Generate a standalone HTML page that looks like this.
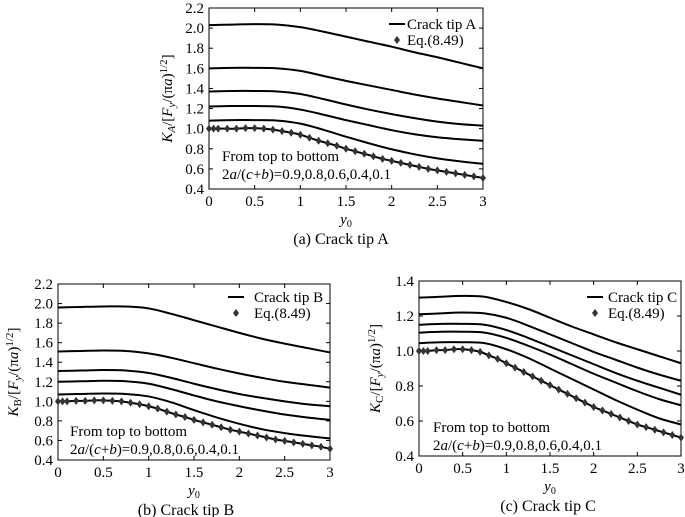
<!DOCTYPE html>
<html><head><meta charset="utf-8"><style>
html,body{margin:0;padding:0;background:#fff;}
svg{display:block;font-family:"Liberation Serif",serif;}
</style></head><body>
<svg id="fig" width="685" height="517" viewBox="0 0 685 517"></svg>
<script>
const xs=[0,0.25,0.5,0.75,1,1.25,1.5,1.75,2,2.25,2.5,2.75,3];
const mx=[0,0.05,0.1,0.2,0.3,0.4,0.5,0.6,0.7,0.8,0.9,1.0,1.1,1.2,1.3,1.4,1.5,1.6,1.7,1.8,1.9,2.0,2.1,2.2,2.3,2.4,2.5,2.6,2.7,2.8,2.9,3.0];
const xTicks=[0,0.5,1,1.5,2,2.5,3];
const xTickLabels=["0","0.5","1","1.5","2","2.5","3"];
const yTicksAB=[0.4,0.6,0.8,1.0,1.2,1.4,1.6,1.8,2.0,2.2];
const yTickLabelsAB=["0.4","0.6","0.8","1.0","1.2","1.4","1.6","1.8","2.0","2.2"];
const yTicksC=[0.4,0.6,0.8,1.0,1.2,1.4];
const yTickLabelsC=["0.4","0.6","0.8","1.0","1.2","1.4"];
const seriesA=[
[2.03,2.035,2.04,2.035,2.01,1.965,1.915,1.865,1.815,1.76,1.71,1.655,1.60],
[1.60,1.605,1.605,1.60,1.575,1.525,1.475,1.43,1.385,1.34,1.30,1.265,1.23],
[1.37,1.375,1.375,1.37,1.345,1.295,1.24,1.19,1.145,1.105,1.07,1.045,1.03],
[1.22,1.225,1.225,1.22,1.19,1.14,1.085,1.035,0.985,0.945,0.915,0.895,0.88],
[1.08,1.085,1.085,1.08,1.05,0.99,0.92,0.855,0.795,0.745,0.705,0.675,0.65]];
const markersA=[1.0,1.0,1.0,1.0,1.0,1.005,1.005,1.0,0.99,0.975,0.96,0.94,0.91,0.88,0.855,0.83,0.80,0.775,0.75,0.725,0.70,0.68,0.66,0.64,0.62,0.60,0.585,0.57,0.555,0.54,0.525,0.51];
const seriesB=[
[1.96,1.965,1.97,1.97,1.95,1.895,1.83,1.765,1.70,1.64,1.59,1.545,1.50],
[1.51,1.515,1.52,1.515,1.49,1.445,1.39,1.335,1.285,1.24,1.20,1.17,1.14],
[1.31,1.315,1.32,1.315,1.29,1.24,1.18,1.125,1.075,1.035,1.0,0.97,0.95],
[1.20,1.205,1.21,1.205,1.18,1.125,1.06,1.0,0.95,0.905,0.865,0.835,0.81],
[1.07,1.075,1.08,1.075,1.05,0.99,0.91,0.835,0.77,0.715,0.675,0.645,0.62]];
const markersB=[1.0,1.0,1.0,1.005,1.005,1.01,1.01,1.005,1.0,0.985,0.97,0.95,0.925,0.895,0.865,0.84,0.81,0.785,0.76,0.735,0.71,0.69,0.67,0.65,0.63,0.61,0.595,0.58,0.565,0.55,0.535,0.515];
const seriesC=[
[1.305,1.31,1.315,1.31,1.28,1.24,1.19,1.14,1.095,1.05,1.01,0.97,0.93],
[1.21,1.215,1.22,1.215,1.19,1.145,1.095,1.045,0.995,0.95,0.905,0.865,0.83],
[1.15,1.155,1.155,1.15,1.12,1.075,1.025,0.975,0.925,0.875,0.83,0.79,0.75],
[1.105,1.11,1.11,1.105,1.075,1.03,0.98,0.925,0.87,0.82,0.77,0.725,0.69],
[1.045,1.05,1.05,1.045,1.01,0.96,0.90,0.84,0.78,0.72,0.665,0.615,0.58]];
const markersC=[1.0,1.0,1.0,1.005,1.005,1.01,1.01,1.005,0.995,0.975,0.955,0.93,0.905,0.88,0.855,0.83,0.805,0.78,0.755,0.73,0.705,0.68,0.66,0.64,0.62,0.60,0.58,0.565,0.55,0.535,0.52,0.505];

const NS="http://www.w3.org/2000/svg";
const svg=document.getElementById('fig');
function mk(tag,attrs,parent,text){const e=document.createElementNS(NS,tag);for(const k in attrs)e.setAttribute(k,attrs[k]);if(text!==undefined)e.textContent=text;(parent||svg).appendChild(e);return e;}
function smooth(pts){let d='M'+pts[0][0].toFixed(2)+','+pts[0][1].toFixed(2);for(let i=0;i<pts.length-1;i++){const p0=pts[Math.max(0,i-1)],p1=pts[i],p2=pts[i+1],p3=pts[Math.min(pts.length-1,i+2)];const c1=[p1[0]+(p2[0]-p0[0])/6,p1[1]+(p2[1]-p0[1])/6],c2=[p2[0]-(p3[0]-p1[0])/6,p2[1]-(p3[1]-p1[1])/6];d+='C'+c1[0].toFixed(2)+','+c1[1].toFixed(2)+' '+c2[0].toFixed(2)+','+c2[1].toFixed(2)+' '+p2[0].toFixed(2)+','+p2[1].toFixed(2);}return d;}

function panel(cfg){
 const g=mk('g',{});
 
 
 const X=v=>cfg.x0+(v-0)/3*(cfg.x1-cfg.x0);
 const Y=v=>cfg.y1-(v-cfg.ymin)/(cfg.ymax-cfg.ymin)*(cfg.y1-cfg.y0);
 const frame=mk('rect',{x:cfg.x0,y:cfg.y0,width:cfg.x1-cfg.x0,height:cfg.y1-cfg.y0,fill:'none',stroke:'#000','stroke-width':1},g);
 
 
 xTicks.forEach((t,i)=>{const x=X(t);
  mk('line',{x1:x,y1:cfg.y1,x2:x,y2:cfg.y1-4,stroke:'#000'},g);
  mk('line',{x1:x,y1:cfg.y0,x2:x,y2:cfg.y0+4,stroke:'#000'},g);
  const tl=mk('text',{x:x,y:cfg.y1+17,'text-anchor':'middle','font-size':15},g,xTickLabels[i]);
  
  
 });
 cfg.yt.forEach((t,i)=>{const y=Y(t);
  mk('line',{x1:cfg.x0,y1:y,x2:cfg.x0+4,y2:y,stroke:'#000'},g);
  mk('line',{x1:cfg.x1,y1:y,x2:cfg.x1-4,y2:y,stroke:'#000'},g);
  const tl=mk('text',{x:cfg.x0-5,y:y+5,'text-anchor':'end','font-size':15},g,cfg.yl[i]);
  
  
 });
 cfg.series.forEach((s,k)=>{const p=mk('path',{d:smooth(xs.map((x,i)=>[X(x),Y(s[i])])),fill:'none',stroke:'#000','stroke-width':2},g);
  
  
 });
 const ml=mk('path',{d:smooth(mx.map((x,i)=>[X(x),Y(cfg.markers[i])])),fill:'none',stroke:'#000','stroke-width':2},g);
 
 
 mx.forEach((x,i)=>{const cx=X(x),cy=Y(cfg.markers[i]);
  const m=mk('path',{d:`M${cx},${cy-4}L${cx+3},${cy}L${cx},${cy+4}L${cx-3},${cy}Z`,fill:'#333'},g);
  
  
 });
 const lg=mk('g',{},g);
 
 
 mk('line',{x1:cfg.lx,y1:cfg.ly,x2:cfg.lx+16,y2:cfg.ly,stroke:'#000','stroke-width':2},lg);
 mk('text',{x:cfg.ltx,y:cfg.ly+5,'font-size':15},lg,'Crack tip '+cfg.id.toUpperCase());
 const mcx=cfg.lx+8,mcy=cfg.ly+16;
 mk('path',{d:`M${mcx},${mcy-4}L${mcx+3},${mcy}L${mcx},${mcy+4}L${mcx-3},${mcy}Z`,fill:'#333'},lg);
 mk('text',{x:cfg.ltx,y:mcy+5,'font-size':15},lg,'Eq.(8.49)');
 const an=mk('text',{x:cfg.ax,y:cfg.ay,'font-size':15},g,'From top to bottom');
 
 
 const an2=mk('text',{x:cfg.ax,y:cfg.ay+18,'font-size':15},g);
 
 
 an2.innerHTML='2<tspan font-style="italic">a</tspan>/(<tspan font-style="italic">c</tspan>+<tspan font-style="italic">b</tspan>)=0.9,0.8,0.6,0.4,0.1';
 const xt=mk('text',{x:(cfg.x0+cfg.x1)/2,y:cfg.y1+35,'text-anchor':'middle','font-size':15},g);
 
 
 xt.innerHTML='<tspan font-style="italic">y</tspan><tspan font-size="10" dy="3">0</tspan>';
 const cy=(cfg.y0+cfg.y1)/2;
 const yt=mk('text',{x:cfg.yx,y:cy,'text-anchor':'middle','font-size':15,transform:`rotate(-90 ${cfg.yx} ${cy})`},g);
 
 
 const L=cfg.id.toUpperCase();
 const sub=L==='A'?'<tspan font-size="11" dy="3" font-style="italic">A</tspan>':`<tspan font-size="11" dy="3">${L}</tspan>`;
 yt.innerHTML=`<tspan font-style="italic">K</tspan>${sub}<tspan dy="-3">/[</tspan><tspan font-style="italic">F</tspan><tspan font-size="11" dy="3" font-style="italic">y</tspan><tspan dy="-3">/(π</tspan><tspan font-style="italic">a</tspan>)<tspan font-size="11" dy="-5">1/2</tspan><tspan dy="5">]</tspan>`;
 const cap=mk('text',{x:cfg.capx,y:cfg.y1+55,'text-anchor':'middle','font-size':16},g,`(${cfg.id}) Crack tip ${L}`);
 
 
}
panel({id:'a',x0:209,x1:483,y0:8,y1:189,ymin:0.4,ymax:2.2,yt:yTicksAB,yl:yTickLabelsAB,series:seriesA,markers:markersA,lx:389,ly:24,ltx:407,ax:222,ay:161,yx:172,capx:341});
panel({id:'b',x0:58,x1:330,y0:284,y1:460,ymin:0.4,ymax:2.2,yt:yTicksAB,yl:yTickLabelsAB,series:seriesB,markers:markersB,lx:228,ly:297,ltx:254,ax:70,ay:436,yx:18,capx:186});
panel({id:'c',x0:419,x1:681,y0:281,y1:456,ymin:0.4,ymax:1.4,yt:yTicksC,yl:yTickLabelsC,series:seriesC,markers:markersC,lx:587,ly:297,ltx:608,ax:433,ay:432,yx:380,capx:548});
</script>
</body></html>
